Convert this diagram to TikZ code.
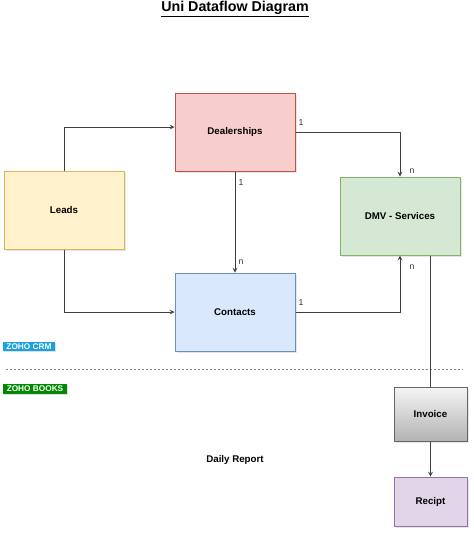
\documentclass[tikz,border=0pt]{standalone}
\usepackage{fontspec}
\setmainfont{Liberation Sans}
\usetikzlibrary{shadows}

\begin{document}
\begin{tikzpicture}[->, >=stealth, x=0.75pt, y=-0.75pt,
    box/.style={draw, line width=0.75pt, minimum width=90pt, minimum height=58.5pt, font=\fontsize{7.3}{9}\selectfont\bfseries, drop shadow={shadow xshift=1.2pt, shadow yshift=-1.2pt, opacity=0.2}},
    smallbox/.style={box, minimum width=54.75pt},
    tag/.style={text=white, inner sep=0pt, font=\fontsize{6.2}{7}\selectfont\bfseries, drop shadow={shadow xshift=1pt, shadow yshift=-1pt, opacity=0.25}},
    card/.style={font=\fontsize{6.5}{8}\selectfont, text=black!80, inner sep=1pt},
    flow/.style={draw=black!75, line width=0.6pt}]
    \useasboundingbox (0,0) rectangle (474,533);

    \node[font=\fontsize{10.7}{13}\selectfont\bfseries] (title) at (235,9) {\underline{Uni Dataflow Diagram}};

    \node[box, fill={rgb,255:red,248;green,206;blue,204}, draw={rgb,255:red,184;green,84;blue,80}] (dealer) at (235,132) {Dealerships};
    \node[box, fill={rgb,255:red,255;green,242;blue,204}, draw={rgb,255:red,214;green,182;blue,86}] (leads) at (64,210) {Leads};
    \node[box, fill={rgb,255:red,213;green,232;blue,212}, draw={rgb,255:red,130;green,179;blue,102}] (dmv) at (400,216) {DMV - Services};
    \node[box, fill={rgb,255:red,218;green,232;blue,252}, draw={rgb,255:red,108;green,142;blue,191}] (contacts) at (235,312) {Contacts};
    \node[smallbox, minimum height=40.5pt, top color=black!4, bottom color=black!30, draw=black!60] (invoice) at (430.5,414) {Invoice};
    \node[smallbox, minimum height=36.75pt, fill={rgb,255:red,225;green,213;blue,231}, draw={rgb,255:red,150;green,115;blue,166}] (recipt) at (430.5,501.5) {Recipt};

    \node[tag, fill={rgb,255:red,27;green,161;blue,226}, minimum width=39pt, minimum height=6.75pt] (crm) at (29,346.5) {ZOHO CRM};
    \node[tag, fill={rgb,255:red,0;green,138;blue,0}, minimum width=48pt, minimum height=7.5pt] (books) at (35,388.5) {ZOHO BOOKS};
    \node[font=\fontsize{7.3}{9}\selectfont\bfseries] (report) at (235,460) {Daily Report};

    \draw[-, draw=black!50, dash pattern=on 1.5pt off 1.5pt] (6,369) -- (463,369);

    \draw[flow] (leads.north) |- ([yshift=3.75pt]dealer.west);
    \draw[flow] (leads.south) |- (contacts.west);
    \draw[flow] (dealer.east) -| (dmv.north);
    \draw[flow] (dealer.south) -- (contacts.north);
    \draw[flow] (contacts.east) -| (dmv.south);
    \draw[flow, -] (dmv.south -| invoice.north) -- (invoice.north);
    \draw[flow] (invoice.south) -- (recipt.north);

    \node[card] (c1) at (301,123) {1};
    \node[card] (c2) at (412,171) {n};
    \node[card] (c3) at (241,183) {1};
    \node[card] (c4) at (241,262) {n};
    \node[card] (c5) at (301,303) {1};
    \node[card] (c6) at (412,267) {n};
\end{tikzpicture}
\end{document}
